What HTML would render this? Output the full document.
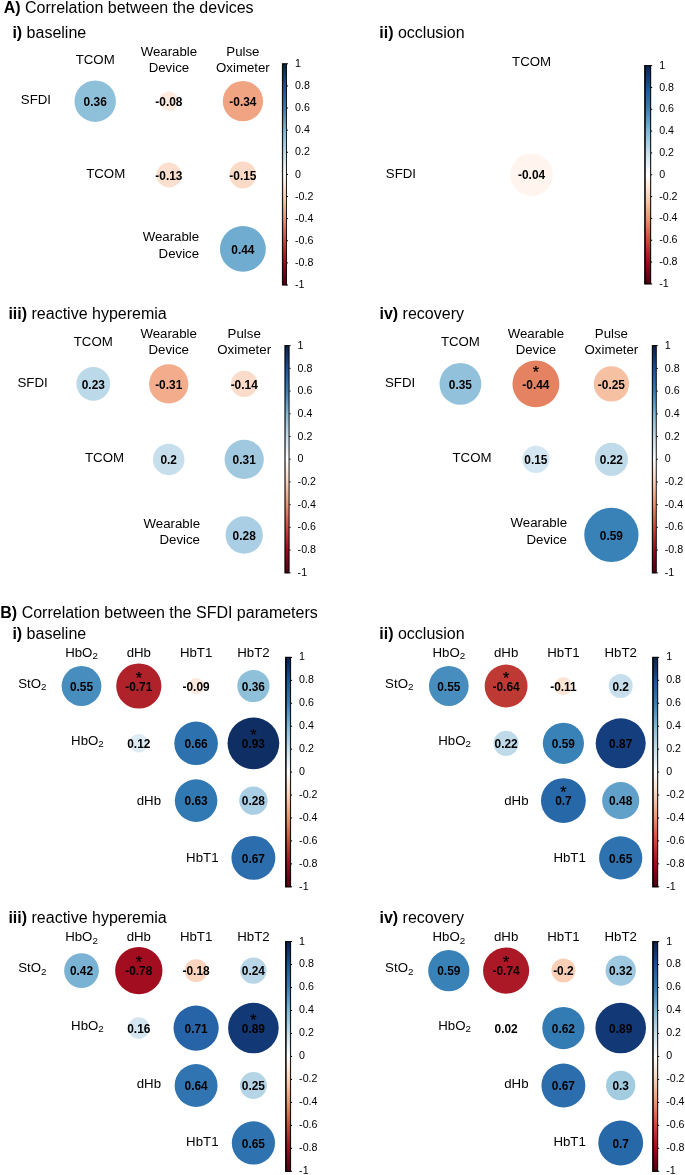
<!DOCTYPE html>
<html><head><meta charset="utf-8"><title>Correlation plots</title>
<style>
html,body{margin:0;padding:0;background:#fff;}
svg{display:block;font-family:"Liberation Sans",Arial,sans-serif;fill:#000;}
</style></head><body>
<svg width="685" height="1175" viewBox="0 0 685 1175">
<rect width="685" height="1175" fill="#fff"/>
<defs><linearGradient id="cb" x1="0" y1="0" x2="0" y2="1"><stop offset="0.000" stop-color="#0a204c"/><stop offset="0.025" stop-color="#0d2c5f"/><stop offset="0.050" stop-color="#123772"/><stop offset="0.075" stop-color="#164387"/><stop offset="0.100" stop-color="#1b519c"/><stop offset="0.125" stop-color="#225ca3"/><stop offset="0.150" stop-color="#2868aa"/><stop offset="0.175" stop-color="#2e74af"/><stop offset="0.200" stop-color="#3680b6"/><stop offset="0.225" stop-color="#488ebf"/><stop offset="0.250" stop-color="#5a9cc6"/><stop offset="0.275" stop-color="#6daace"/><stop offset="0.300" stop-color="#82b9d6"/><stop offset="0.325" stop-color="#93c2db"/><stop offset="0.350" stop-color="#a4cce1"/><stop offset="0.375" stop-color="#b5d5e7"/><stop offset="0.400" stop-color="#c7dfec"/><stop offset="0.425" stop-color="#d4e7f1"/><stop offset="0.450" stop-color="#e3eff6"/><stop offset="0.475" stop-color="#f1f6fa"/><stop offset="0.500" stop-color="#ffffff"/><stop offset="0.525" stop-color="#fef4ee"/><stop offset="0.550" stop-color="#fee9dc"/><stop offset="0.575" stop-color="#fcdecc"/><stop offset="0.600" stop-color="#fad3bb"/><stop offset="0.625" stop-color="#f7c3a7"/><stop offset="0.650" stop-color="#f3b393"/><stop offset="0.675" stop-color="#f0a381"/><stop offset="0.700" stop-color="#ed946f"/><stop offset="0.725" stop-color="#e38161"/><stop offset="0.750" stop-color="#db6d54"/><stop offset="0.775" stop-color="#d25b47"/><stop offset="0.800" stop-color="#c9493b"/><stop offset="0.825" stop-color="#be3834"/><stop offset="0.850" stop-color="#b4272c"/><stop offset="0.875" stop-color="#a91725"/><stop offset="0.900" stop-color="#9f0a1e"/><stop offset="0.925" stop-color="#89061c"/><stop offset="0.950" stop-color="#760219"/><stop offset="0.975" stop-color="#630016"/><stop offset="1.000" stop-color="#500014"/></linearGradient></defs>
<text x="3.70" y="12.60" font-size="16" text-anchor="start" font-weight="normal" ><tspan font-weight="bold">A)</tspan> Correlation between the devices</text>
<text x="12.40" y="37.80" font-size="16" text-anchor="start" font-weight="normal" ><tspan font-weight="bold">i)</tspan> baseline</text>
<text x="379.30" y="37.80" font-size="16" text-anchor="start" font-weight="normal" ><tspan font-weight="bold">ii)</tspan> occlusion</text>
<text x="8.40" y="318.70" font-size="16" text-anchor="start" font-weight="normal" ><tspan font-weight="bold">iii)</tspan> reactive hyperemia</text>
<text x="379.50" y="318.60" font-size="16" text-anchor="start" font-weight="normal" ><tspan font-weight="bold">iv)</tspan> recovery</text>
<text x="0.30" y="617.50" font-size="16" text-anchor="start" font-weight="normal" ><tspan font-weight="bold">B)</tspan> Correlation between the SFDI parameters</text>
<text x="12.40" y="638.50" font-size="16" text-anchor="start" font-weight="normal" ><tspan font-weight="bold">i)</tspan> baseline</text>
<text x="379.30" y="638.50" font-size="16" text-anchor="start" font-weight="normal" ><tspan font-weight="bold">ii)</tspan> occlusion</text>
<text x="8.40" y="922.70" font-size="16" text-anchor="start" font-weight="normal" ><tspan font-weight="bold">iii)</tspan> reactive hyperemia</text>
<text x="379.50" y="922.70" font-size="16" text-anchor="start" font-weight="normal" ><tspan font-weight="bold">iv)</tspan> recovery</text>
<text x="95.20" y="63.60" font-size="13.25" text-anchor="middle" font-weight="normal" >TCOM</text>
<text x="168.90" y="56.00" font-size="13.25" text-anchor="middle" font-weight="normal" >Wearable</text>
<text x="168.90" y="72.40" font-size="13.25" text-anchor="middle" font-weight="normal" >Device</text>
<text x="242.90" y="56.00" font-size="13.25" text-anchor="middle" font-weight="normal" >Pulse</text>
<text x="242.90" y="72.40" font-size="13.25" text-anchor="middle" font-weight="normal" >Oximeter</text>
<text x="51.00" y="104.20" font-size="13.25" text-anchor="end" font-weight="normal" >SFDI</text>
<text x="125.20" y="178.00" font-size="13.25" text-anchor="end" font-weight="normal" >TCOM</text>
<text x="199.10" y="241.40" font-size="13.25" text-anchor="end" font-weight="normal" >Wearable</text>
<text x="199.10" y="257.90" font-size="13.25" text-anchor="end" font-weight="normal" >Device</text>
<circle cx="95.20" cy="101.20" r="20.72" fill="#8fc0da"/>
<circle cx="168.90" cy="101.20" r="9.77" fill="#feeadf"/>
<circle cx="242.90" cy="101.20" r="20.14" fill="#f0a482"/>
<circle cx="168.90" cy="175.00" r="12.45" fill="#fcdfce"/>
<circle cx="242.90" cy="175.00" r="13.38" fill="#fbdbc7"/>
<circle cx="242.90" cy="248.90" r="22.91" fill="#70accf"/>
<text x="95.20" y="105.81" font-size="11.9" text-anchor="middle" font-weight="bold" >0.36</text>
<text x="168.90" y="105.81" font-size="11.9" text-anchor="middle" font-weight="bold" >-0.08</text>
<text x="242.90" y="105.81" font-size="11.9" text-anchor="middle" font-weight="bold" >-0.34</text>
<text x="168.90" y="179.61" font-size="11.9" text-anchor="middle" font-weight="bold" >-0.13</text>
<text x="242.90" y="179.61" font-size="11.9" text-anchor="middle" font-weight="bold" >-0.15</text>
<text x="242.90" y="253.51" font-size="11.9" text-anchor="middle" font-weight="bold" >0.44</text>
<rect x="282.30" y="63.50" width="4.30" height="221.80" fill="url(#cb)"/>
<path d="M281.90 63.20h1.25V285.60h-1.25zM285.95 63.20h1.05V285.60h-1.05zM281.90 63.20H287.00v1.2H281.90zM281.90 284.40H287.00v1.2H281.90z" fill="#000" fill-opacity="0.88"/>
<text x="295.00" y="66.82" font-size="10.67" text-anchor="start" font-weight="normal" >1</text>
<text x="295.00" y="88.96" font-size="10.67" text-anchor="start" font-weight="normal" >0.8</text>
<text x="295.00" y="111.10" font-size="10.67" text-anchor="start" font-weight="normal" >0.6</text>
<text x="295.00" y="133.24" font-size="10.67" text-anchor="start" font-weight="normal" >0.4</text>
<text x="295.00" y="155.38" font-size="10.67" text-anchor="start" font-weight="normal" >0.2</text>
<text x="295.00" y="177.52" font-size="10.67" text-anchor="start" font-weight="normal" >0</text>
<text x="295.00" y="199.66" font-size="10.67" text-anchor="start" font-weight="normal" >-0.2</text>
<text x="295.00" y="221.80" font-size="10.67" text-anchor="start" font-weight="normal" >-0.4</text>
<text x="295.00" y="243.94" font-size="10.67" text-anchor="start" font-weight="normal" >-0.6</text>
<text x="295.00" y="266.08" font-size="10.67" text-anchor="start" font-weight="normal" >-0.8</text>
<text x="295.00" y="288.22" font-size="10.67" text-anchor="start" font-weight="normal" >-1</text>
<path d="M286.70 63.80h1.3M286.70 85.92h1.3M286.70 108.04h1.3M286.70 130.16h1.3M286.70 152.28h1.3M286.70 174.40h1.3M286.70 196.52h1.3M286.70 218.64h1.3M286.70 240.76h1.3M286.70 262.88h1.3M286.70 285.00h1.3" stroke="#000" stroke-width="1" fill="none"/>
<text x="531.60" y="66.00" font-size="13.25" text-anchor="middle" font-weight="normal" >TCOM</text>
<text x="416.00" y="177.70" font-size="13.25" text-anchor="end" font-weight="normal" >SFDI</text>
<circle cx="531.60" cy="174.70" r="21.25" fill="#fff4ee"/>
<text x="531.60" y="179.31" font-size="11.9" text-anchor="middle" font-weight="bold" >-0.04</text>
<rect x="644.50" y="65.30" width="6.30" height="218.90" fill="url(#cb)"/>
<path d="M644.10 65.00h1.75V284.50h-1.75zM650.05 65.00h1.15V284.50h-1.15zM644.10 65.00H651.20v1.2H644.10zM644.10 283.30H651.20v1.2H644.10z" fill="#000" fill-opacity="0.88"/>
<text x="659.20" y="68.82" font-size="10.67" text-anchor="start" font-weight="normal" >1</text>
<text x="659.20" y="90.60" font-size="10.67" text-anchor="start" font-weight="normal" >0.8</text>
<text x="659.20" y="112.39" font-size="10.67" text-anchor="start" font-weight="normal" >0.6</text>
<text x="659.20" y="134.17" font-size="10.67" text-anchor="start" font-weight="normal" >0.4</text>
<text x="659.20" y="155.96" font-size="10.67" text-anchor="start" font-weight="normal" >0.2</text>
<text x="659.20" y="177.74" font-size="10.67" text-anchor="start" font-weight="normal" >0</text>
<text x="659.20" y="199.53" font-size="10.67" text-anchor="start" font-weight="normal" >-0.2</text>
<text x="659.20" y="221.31" font-size="10.67" text-anchor="start" font-weight="normal" >-0.4</text>
<text x="659.20" y="243.10" font-size="10.67" text-anchor="start" font-weight="normal" >-0.6</text>
<text x="659.20" y="264.88" font-size="10.67" text-anchor="start" font-weight="normal" >-0.8</text>
<text x="659.20" y="286.67" font-size="10.67" text-anchor="start" font-weight="normal" >-1</text>
<path d="M650.90 65.60h1.3M650.90 87.43h1.3M650.90 109.26h1.3M650.90 131.09h1.3M650.90 152.92h1.3M650.90 174.75h1.3M650.90 196.58h1.3M650.90 218.41h1.3M650.90 240.24h1.3M650.90 262.07h1.3M650.90 283.90h1.3" stroke="#000" stroke-width="1" fill="none"/>
<text x="93.30" y="345.50" font-size="13.25" text-anchor="middle" font-weight="normal" >TCOM</text>
<text x="168.70" y="337.90" font-size="13.25" text-anchor="middle" font-weight="normal" >Wearable</text>
<text x="168.70" y="354.30" font-size="13.25" text-anchor="middle" font-weight="normal" >Device</text>
<text x="244.20" y="337.90" font-size="13.25" text-anchor="middle" font-weight="normal" >Pulse</text>
<text x="244.20" y="354.30" font-size="13.25" text-anchor="middle" font-weight="normal" >Oximeter</text>
<text x="47.70" y="386.90" font-size="13.25" text-anchor="end" font-weight="normal" >SFDI</text>
<text x="124.00" y="462.40" font-size="13.25" text-anchor="end" font-weight="normal" >TCOM</text>
<text x="200.00" y="527.50" font-size="13.25" text-anchor="end" font-weight="normal" >Wearable</text>
<text x="200.00" y="544.00" font-size="13.25" text-anchor="end" font-weight="normal" >Device</text>
<circle cx="93.30" cy="383.90" r="16.90" fill="#bcd9e9"/>
<circle cx="168.70" cy="383.90" r="19.62" fill="#f3ad8c"/>
<circle cx="244.20" cy="383.90" r="13.19" fill="#fbdcca"/>
<circle cx="168.70" cy="459.40" r="15.76" fill="#c7dfec"/>
<circle cx="244.20" cy="459.40" r="19.62" fill="#a0c9e0"/>
<circle cx="244.20" cy="535.00" r="18.65" fill="#aacfe4"/>
<text x="93.30" y="388.51" font-size="11.9" text-anchor="middle" font-weight="bold" >0.23</text>
<text x="168.70" y="388.51" font-size="11.9" text-anchor="middle" font-weight="bold" >-0.31</text>
<text x="244.20" y="388.51" font-size="11.9" text-anchor="middle" font-weight="bold" >-0.14</text>
<text x="168.70" y="464.01" font-size="11.9" text-anchor="middle" font-weight="bold" >0.2</text>
<text x="244.20" y="464.01" font-size="11.9" text-anchor="middle" font-weight="bold" >0.31</text>
<text x="244.20" y="539.61" font-size="11.9" text-anchor="middle" font-weight="bold" >0.28</text>
<rect x="284.80" y="345.30" width="4.40" height="227.80" fill="url(#cb)"/>
<path d="M284.40 345.00h1.25V573.40h-1.25zM288.55 345.00h1.05V573.40h-1.05zM284.40 345.00H289.60v1.2H284.40zM284.40 572.20H289.60v1.2H284.40z" fill="#000" fill-opacity="0.88"/>
<text x="297.60" y="348.82" font-size="10.67" text-anchor="start" font-weight="normal" >1</text>
<text x="297.60" y="371.50" font-size="10.67" text-anchor="start" font-weight="normal" >0.8</text>
<text x="297.60" y="394.19" font-size="10.67" text-anchor="start" font-weight="normal" >0.6</text>
<text x="297.60" y="416.87" font-size="10.67" text-anchor="start" font-weight="normal" >0.4</text>
<text x="297.60" y="439.56" font-size="10.67" text-anchor="start" font-weight="normal" >0.2</text>
<text x="297.60" y="462.24" font-size="10.67" text-anchor="start" font-weight="normal" >0</text>
<text x="297.60" y="484.93" font-size="10.67" text-anchor="start" font-weight="normal" >-0.2</text>
<text x="297.60" y="507.61" font-size="10.67" text-anchor="start" font-weight="normal" >-0.4</text>
<text x="297.60" y="530.30" font-size="10.67" text-anchor="start" font-weight="normal" >-0.6</text>
<text x="297.60" y="552.98" font-size="10.67" text-anchor="start" font-weight="normal" >-0.8</text>
<text x="297.60" y="575.67" font-size="10.67" text-anchor="start" font-weight="normal" >-1</text>
<path d="M289.30 345.60h1.3M289.30 368.32h1.3M289.30 391.04h1.3M289.30 413.76h1.3M289.30 436.48h1.3M289.30 459.20h1.3M289.30 481.92h1.3M289.30 504.64h1.3M289.30 527.36h1.3M289.30 550.08h1.3M289.30 572.80h1.3" stroke="#000" stroke-width="1" fill="none"/>
<text x="460.40" y="345.50" font-size="13.25" text-anchor="middle" font-weight="normal" >TCOM</text>
<text x="535.90" y="337.90" font-size="13.25" text-anchor="middle" font-weight="normal" >Wearable</text>
<text x="535.90" y="354.30" font-size="13.25" text-anchor="middle" font-weight="normal" >Device</text>
<text x="611.40" y="337.90" font-size="13.25" text-anchor="middle" font-weight="normal" >Pulse</text>
<text x="611.40" y="354.30" font-size="13.25" text-anchor="middle" font-weight="normal" >Oximeter</text>
<text x="415.20" y="386.90" font-size="13.25" text-anchor="end" font-weight="normal" >SFDI</text>
<text x="491.50" y="462.40" font-size="13.25" text-anchor="end" font-weight="normal" >TCOM</text>
<text x="567.00" y="527.40" font-size="13.25" text-anchor="end" font-weight="normal" >Wearable</text>
<text x="567.00" y="543.90" font-size="13.25" text-anchor="end" font-weight="normal" >Device</text>
<circle cx="460.40" cy="383.90" r="20.90" fill="#92c2db"/>
<circle cx="535.90" cy="383.90" r="23.44" fill="#e58262"/>
<circle cx="611.40" cy="383.90" r="17.67" fill="#f6c0a3"/>
<circle cx="535.90" cy="459.40" r="13.68" fill="#d4e6f1"/>
<circle cx="611.40" cy="459.40" r="16.57" fill="#bfdbea"/>
<circle cx="611.40" cy="534.90" r="27.14" fill="#3982b8"/>
<text x="460.40" y="388.51" font-size="11.9" text-anchor="middle" font-weight="bold" >0.35</text>
<text x="535.90" y="388.51" font-size="11.9" text-anchor="middle" font-weight="bold" >-0.44</text>
<text x="535.90" y="378.15" font-size="16" text-anchor="middle" font-weight="normal" stroke="#000" stroke-width="0.25">*</text>
<text x="611.40" y="388.51" font-size="11.9" text-anchor="middle" font-weight="bold" >-0.25</text>
<text x="535.90" y="464.01" font-size="11.9" text-anchor="middle" font-weight="bold" >0.15</text>
<text x="611.40" y="464.01" font-size="11.9" text-anchor="middle" font-weight="bold" >0.22</text>
<text x="611.40" y="539.51" font-size="11.9" text-anchor="middle" font-weight="bold" >0.59</text>
<rect x="652.20" y="345.40" width="4.20" height="227.70" fill="url(#cb)"/>
<path d="M651.80 345.10h1.25V573.40h-1.25zM655.75 345.10h1.05V573.40h-1.05zM651.80 345.10H656.80v1.2H651.80zM651.80 572.20H656.80v1.2H651.80z" fill="#000" fill-opacity="0.88"/>
<text x="664.80" y="348.82" font-size="10.67" text-anchor="start" font-weight="normal" >1</text>
<text x="664.80" y="371.50" font-size="10.67" text-anchor="start" font-weight="normal" >0.8</text>
<text x="664.80" y="394.19" font-size="10.67" text-anchor="start" font-weight="normal" >0.6</text>
<text x="664.80" y="416.87" font-size="10.67" text-anchor="start" font-weight="normal" >0.4</text>
<text x="664.80" y="439.56" font-size="10.67" text-anchor="start" font-weight="normal" >0.2</text>
<text x="664.80" y="462.24" font-size="10.67" text-anchor="start" font-weight="normal" >0</text>
<text x="664.80" y="484.93" font-size="10.67" text-anchor="start" font-weight="normal" >-0.2</text>
<text x="664.80" y="507.61" font-size="10.67" text-anchor="start" font-weight="normal" >-0.4</text>
<text x="664.80" y="530.30" font-size="10.67" text-anchor="start" font-weight="normal" >-0.6</text>
<text x="664.80" y="552.98" font-size="10.67" text-anchor="start" font-weight="normal" >-0.8</text>
<text x="664.80" y="575.67" font-size="10.67" text-anchor="start" font-weight="normal" >-1</text>
<path d="M656.50 345.70h1.3M656.50 368.41h1.3M656.50 391.12h1.3M656.50 413.83h1.3M656.50 436.54h1.3M656.50 459.25h1.3M656.50 481.96h1.3M656.50 504.67h1.3M656.50 527.38h1.3M656.50 550.09h1.3M656.50 572.80h1.3" stroke="#000" stroke-width="1" fill="none"/>
<text x="81.50" y="656.50" font-size="13.25" text-anchor="middle" font-weight="normal" >HbO<tspan font-size="9.8" dy="2.6">2</tspan></text>
<text x="138.80" y="656.50" font-size="13.25" text-anchor="middle" font-weight="normal" >dHb</text>
<text x="196.10" y="656.50" font-size="13.25" text-anchor="middle" font-weight="normal" >HbT1</text>
<text x="253.40" y="656.50" font-size="13.25" text-anchor="middle" font-weight="normal" >HbT2</text>
<text x="46.50" y="687.50" font-size="13.25" text-anchor="end" font-weight="normal" >StO<tspan font-size="9.8" dy="2.6">2</tspan></text>
<text x="103.80" y="744.80" font-size="13.25" text-anchor="end" font-weight="normal" >HbO<tspan font-size="9.8" dy="2.6">2</tspan></text>
<text x="161.00" y="804.50" font-size="13.25" text-anchor="end" font-weight="normal" >dHb</text>
<text x="218.50" y="861.80" font-size="13.25" text-anchor="end" font-weight="normal" >HbT1</text>
<circle cx="81.50" cy="686.00" r="19.89" fill="#478dbd"/>
<circle cx="138.80" cy="686.00" r="22.60" fill="#b0222a"/>
<circle cx="196.10" cy="686.00" r="8.04" fill="#fee7db"/>
<circle cx="253.40" cy="686.00" r="16.09" fill="#8fc0da"/>
<circle cx="138.80" cy="743.30" r="9.29" fill="#dcebf4"/>
<circle cx="196.10" cy="743.30" r="21.79" fill="#2d71ae"/>
<circle cx="253.40" cy="743.30" r="25.86" fill="#0f2f64"/>
<circle cx="196.10" cy="800.60" r="21.28" fill="#3179b2"/>
<circle cx="253.40" cy="800.60" r="14.19" fill="#aacfe4"/>
<circle cx="253.40" cy="857.90" r="21.95" fill="#2c6ead"/>
<text x="81.50" y="690.61" font-size="11.9" text-anchor="middle" font-weight="bold" >0.55</text>
<text x="138.80" y="690.61" font-size="11.9" text-anchor="middle" font-weight="bold" >-0.71</text>
<text x="138.80" y="683.71" font-size="16" text-anchor="middle" font-weight="normal" stroke="#000" stroke-width="0.25">*</text>
<text x="196.10" y="690.61" font-size="11.9" text-anchor="middle" font-weight="bold" >-0.09</text>
<text x="253.40" y="690.61" font-size="11.9" text-anchor="middle" font-weight="bold" >0.36</text>
<text x="138.80" y="747.91" font-size="11.9" text-anchor="middle" font-weight="bold" >0.12</text>
<text x="196.10" y="747.91" font-size="11.9" text-anchor="middle" font-weight="bold" >0.66</text>
<text x="253.40" y="747.91" font-size="11.9" text-anchor="middle" font-weight="bold" >0.93</text>
<text x="253.40" y="741.01" font-size="16" text-anchor="middle" font-weight="normal" stroke="#000" stroke-width="0.25">*</text>
<text x="196.10" y="805.21" font-size="11.9" text-anchor="middle" font-weight="bold" >0.63</text>
<text x="253.40" y="805.21" font-size="11.9" text-anchor="middle" font-weight="bold" >0.28</text>
<text x="253.40" y="862.51" font-size="11.9" text-anchor="middle" font-weight="bold" >0.67</text>
<rect x="285.40" y="657.10" width="5.30" height="230.00" fill="url(#cb)"/>
<path d="M285.00 656.80h1.75V887.40h-1.75zM289.95 656.80h1.15V887.40h-1.15zM285.00 656.80H291.10v1.2H285.00zM285.00 886.20H291.10v1.2H285.00z" fill="#000" fill-opacity="0.88"/>
<text x="299.10" y="659.92" font-size="10.67" text-anchor="start" font-weight="normal" >1</text>
<text x="299.10" y="682.89" font-size="10.67" text-anchor="start" font-weight="normal" >0.8</text>
<text x="299.10" y="705.87" font-size="10.67" text-anchor="start" font-weight="normal" >0.6</text>
<text x="299.10" y="728.84" font-size="10.67" text-anchor="start" font-weight="normal" >0.4</text>
<text x="299.10" y="751.82" font-size="10.67" text-anchor="start" font-weight="normal" >0.2</text>
<text x="299.10" y="774.79" font-size="10.67" text-anchor="start" font-weight="normal" >0</text>
<text x="299.10" y="797.77" font-size="10.67" text-anchor="start" font-weight="normal" >-0.2</text>
<text x="299.10" y="820.74" font-size="10.67" text-anchor="start" font-weight="normal" >-0.4</text>
<text x="299.10" y="843.72" font-size="10.67" text-anchor="start" font-weight="normal" >-0.6</text>
<text x="299.10" y="866.69" font-size="10.67" text-anchor="start" font-weight="normal" >-0.8</text>
<text x="299.10" y="889.67" font-size="10.67" text-anchor="start" font-weight="normal" >-1</text>
<path d="M290.80 657.40h1.3M290.80 680.34h1.3M290.80 703.28h1.3M290.80 726.22h1.3M290.80 749.16h1.3M290.80 772.10h1.3M290.80 795.04h1.3M290.80 817.98h1.3M290.80 840.92h1.3M290.80 863.86h1.3M290.80 886.80h1.3" stroke="#000" stroke-width="1" fill="none"/>
<text x="448.80" y="656.50" font-size="13.25" text-anchor="middle" font-weight="normal" >HbO<tspan font-size="9.8" dy="2.6">2</tspan></text>
<text x="506.10" y="656.50" font-size="13.25" text-anchor="middle" font-weight="normal" >dHb</text>
<text x="563.40" y="656.50" font-size="13.25" text-anchor="middle" font-weight="normal" >HbT1</text>
<text x="620.70" y="656.50" font-size="13.25" text-anchor="middle" font-weight="normal" >HbT2</text>
<text x="413.40" y="687.50" font-size="13.25" text-anchor="end" font-weight="normal" >StO<tspan font-size="9.8" dy="2.6">2</tspan></text>
<text x="471.00" y="744.80" font-size="13.25" text-anchor="end" font-weight="normal" >HbO<tspan font-size="9.8" dy="2.6">2</tspan></text>
<text x="528.50" y="804.50" font-size="13.25" text-anchor="end" font-weight="normal" >dHb</text>
<text x="585.80" y="861.80" font-size="13.25" text-anchor="end" font-weight="normal" >HbT1</text>
<circle cx="448.80" cy="686.00" r="19.89" fill="#478dbd"/>
<circle cx="506.10" cy="686.00" r="21.45" fill="#bf3934"/>
<circle cx="563.40" cy="686.00" r="8.89" fill="#fce4d4"/>
<circle cx="620.70" cy="686.00" r="11.99" fill="#c7dfec"/>
<circle cx="506.10" cy="743.30" r="12.58" fill="#bfdbea"/>
<circle cx="563.40" cy="743.30" r="20.60" fill="#3982b8"/>
<circle cx="620.70" cy="743.30" r="25.01" fill="#143e7d"/>
<circle cx="563.40" cy="800.60" r="22.44" fill="#2768a8"/>
<circle cx="620.70" cy="800.60" r="18.58" fill="#61a0c9"/>
<circle cx="620.70" cy="857.90" r="21.62" fill="#2e73af"/>
<text x="448.80" y="690.61" font-size="11.9" text-anchor="middle" font-weight="bold" >0.55</text>
<text x="506.10" y="690.61" font-size="11.9" text-anchor="middle" font-weight="bold" >-0.64</text>
<text x="506.10" y="683.71" font-size="16" text-anchor="middle" font-weight="normal" stroke="#000" stroke-width="0.25">*</text>
<text x="563.40" y="690.61" font-size="11.9" text-anchor="middle" font-weight="bold" >-0.11</text>
<text x="620.70" y="690.61" font-size="11.9" text-anchor="middle" font-weight="bold" >0.2</text>
<text x="506.10" y="747.91" font-size="11.9" text-anchor="middle" font-weight="bold" >0.22</text>
<text x="563.40" y="747.91" font-size="11.9" text-anchor="middle" font-weight="bold" >0.59</text>
<text x="620.70" y="747.91" font-size="11.9" text-anchor="middle" font-weight="bold" >0.87</text>
<text x="563.40" y="805.21" font-size="11.9" text-anchor="middle" font-weight="bold" >0.7</text>
<text x="563.40" y="798.31" font-size="16" text-anchor="middle" font-weight="normal" stroke="#000" stroke-width="0.25">*</text>
<text x="620.70" y="805.21" font-size="11.9" text-anchor="middle" font-weight="bold" >0.48</text>
<text x="620.70" y="862.51" font-size="11.9" text-anchor="middle" font-weight="bold" >0.65</text>
<rect x="652.50" y="657.10" width="5.30" height="230.00" fill="url(#cb)"/>
<path d="M652.10 656.80h1.75V887.40h-1.75zM657.05 656.80h1.15V887.40h-1.15zM652.10 656.80H658.20v1.2H652.10zM652.10 886.20H658.20v1.2H652.10z" fill="#000" fill-opacity="0.88"/>
<text x="666.20" y="659.92" font-size="10.67" text-anchor="start" font-weight="normal" >1</text>
<text x="666.20" y="682.89" font-size="10.67" text-anchor="start" font-weight="normal" >0.8</text>
<text x="666.20" y="705.87" font-size="10.67" text-anchor="start" font-weight="normal" >0.6</text>
<text x="666.20" y="728.84" font-size="10.67" text-anchor="start" font-weight="normal" >0.4</text>
<text x="666.20" y="751.82" font-size="10.67" text-anchor="start" font-weight="normal" >0.2</text>
<text x="666.20" y="774.79" font-size="10.67" text-anchor="start" font-weight="normal" >0</text>
<text x="666.20" y="797.77" font-size="10.67" text-anchor="start" font-weight="normal" >-0.2</text>
<text x="666.20" y="820.74" font-size="10.67" text-anchor="start" font-weight="normal" >-0.4</text>
<text x="666.20" y="843.72" font-size="10.67" text-anchor="start" font-weight="normal" >-0.6</text>
<text x="666.20" y="866.69" font-size="10.67" text-anchor="start" font-weight="normal" >-0.8</text>
<text x="666.20" y="889.67" font-size="10.67" text-anchor="start" font-weight="normal" >-1</text>
<path d="M657.90 657.40h1.3M657.90 680.34h1.3M657.90 703.28h1.3M657.90 726.22h1.3M657.90 749.16h1.3M657.90 772.10h1.3M657.90 795.04h1.3M657.90 817.98h1.3M657.90 840.92h1.3M657.90 863.86h1.3M657.90 886.80h1.3" stroke="#000" stroke-width="1" fill="none"/>
<text x="81.50" y="941.00" font-size="13.25" text-anchor="middle" font-weight="normal" >HbO<tspan font-size="9.8" dy="2.6">2</tspan></text>
<text x="138.80" y="941.00" font-size="13.25" text-anchor="middle" font-weight="normal" >dHb</text>
<text x="196.10" y="941.00" font-size="13.25" text-anchor="middle" font-weight="normal" >HbT1</text>
<text x="253.40" y="941.00" font-size="13.25" text-anchor="middle" font-weight="normal" >HbT2</text>
<text x="46.50" y="972.10" font-size="13.25" text-anchor="end" font-weight="normal" >StO<tspan font-size="9.8" dy="2.6">2</tspan></text>
<text x="103.80" y="1029.55" font-size="13.25" text-anchor="end" font-weight="normal" >HbO<tspan font-size="9.8" dy="2.6">2</tspan></text>
<text x="161.00" y="1088.40" font-size="13.25" text-anchor="end" font-weight="normal" >dHb</text>
<text x="218.50" y="1145.85" font-size="13.25" text-anchor="end" font-weight="normal" >HbT1</text>
<circle cx="81.50" cy="970.60" r="17.38" fill="#79b2d3"/>
<circle cx="138.80" cy="970.60" r="23.68" fill="#a20e20"/>
<circle cx="196.10" cy="970.60" r="11.38" fill="#fad4bd"/>
<circle cx="253.40" cy="970.60" r="13.14" fill="#b8d6e7"/>
<circle cx="138.80" cy="1028.05" r="10.73" fill="#d2e5f0"/>
<circle cx="196.10" cy="1028.05" r="22.60" fill="#2664a7"/>
<circle cx="253.40" cy="1028.05" r="25.30" fill="#123875"/>
<circle cx="196.10" cy="1085.50" r="21.45" fill="#3075b1"/>
<circle cx="253.40" cy="1085.50" r="13.41" fill="#b5d5e6"/>
<circle cx="253.40" cy="1142.95" r="21.62" fill="#2e73af"/>
<text x="81.50" y="975.21" font-size="11.9" text-anchor="middle" font-weight="bold" >0.42</text>
<text x="138.80" y="975.21" font-size="11.9" text-anchor="middle" font-weight="bold" >-0.78</text>
<text x="138.80" y="968.31" font-size="16" text-anchor="middle" font-weight="normal" stroke="#000" stroke-width="0.25">*</text>
<text x="196.10" y="975.21" font-size="11.9" text-anchor="middle" font-weight="bold" >-0.18</text>
<text x="253.40" y="975.21" font-size="11.9" text-anchor="middle" font-weight="bold" >0.24</text>
<text x="138.80" y="1032.66" font-size="11.9" text-anchor="middle" font-weight="bold" >0.16</text>
<text x="196.10" y="1032.66" font-size="11.9" text-anchor="middle" font-weight="bold" >0.71</text>
<text x="253.40" y="1032.66" font-size="11.9" text-anchor="middle" font-weight="bold" >0.89</text>
<text x="253.40" y="1025.76" font-size="16" text-anchor="middle" font-weight="normal" stroke="#000" stroke-width="0.25">*</text>
<text x="196.10" y="1090.11" font-size="11.9" text-anchor="middle" font-weight="bold" >0.64</text>
<text x="253.40" y="1090.11" font-size="11.9" text-anchor="middle" font-weight="bold" >0.25</text>
<text x="253.40" y="1147.56" font-size="11.9" text-anchor="middle" font-weight="bold" >0.65</text>
<rect x="285.40" y="941.30" width="5.30" height="230.30" fill="url(#cb)"/>
<path d="M285.00 941.00h1.75V1171.90h-1.75zM289.95 941.00h1.15V1171.90h-1.15zM285.00 941.00H291.10v1.2H285.00zM285.00 1170.70H291.10v1.2H285.00z" fill="#000" fill-opacity="0.88"/>
<text x="299.10" y="944.52" font-size="10.67" text-anchor="start" font-weight="normal" >1</text>
<text x="299.10" y="967.45" font-size="10.67" text-anchor="start" font-weight="normal" >0.8</text>
<text x="299.10" y="990.38" font-size="10.67" text-anchor="start" font-weight="normal" >0.6</text>
<text x="299.10" y="1013.31" font-size="10.67" text-anchor="start" font-weight="normal" >0.4</text>
<text x="299.10" y="1036.24" font-size="10.67" text-anchor="start" font-weight="normal" >0.2</text>
<text x="299.10" y="1059.17" font-size="10.67" text-anchor="start" font-weight="normal" >0</text>
<text x="299.10" y="1082.10" font-size="10.67" text-anchor="start" font-weight="normal" >-0.2</text>
<text x="299.10" y="1105.03" font-size="10.67" text-anchor="start" font-weight="normal" >-0.4</text>
<text x="299.10" y="1127.96" font-size="10.67" text-anchor="start" font-weight="normal" >-0.6</text>
<text x="299.10" y="1150.89" font-size="10.67" text-anchor="start" font-weight="normal" >-0.8</text>
<text x="299.10" y="1173.82" font-size="10.67" text-anchor="start" font-weight="normal" >-1</text>
<path d="M290.80 941.60h1.3M290.80 964.57h1.3M290.80 987.54h1.3M290.80 1010.51h1.3M290.80 1033.48h1.3M290.80 1056.45h1.3M290.80 1079.42h1.3M290.80 1102.39h1.3M290.80 1125.36h1.3M290.80 1148.33h1.3M290.80 1171.30h1.3" stroke="#000" stroke-width="1" fill="none"/>
<text x="448.80" y="941.00" font-size="13.25" text-anchor="middle" font-weight="normal" >HbO<tspan font-size="9.8" dy="2.6">2</tspan></text>
<text x="506.10" y="941.00" font-size="13.25" text-anchor="middle" font-weight="normal" >dHb</text>
<text x="563.40" y="941.00" font-size="13.25" text-anchor="middle" font-weight="normal" >HbT1</text>
<text x="620.70" y="941.00" font-size="13.25" text-anchor="middle" font-weight="normal" >HbT2</text>
<text x="413.40" y="972.10" font-size="13.25" text-anchor="end" font-weight="normal" >StO<tspan font-size="9.8" dy="2.6">2</tspan></text>
<text x="471.00" y="1029.55" font-size="13.25" text-anchor="end" font-weight="normal" >HbO<tspan font-size="9.8" dy="2.6">2</tspan></text>
<text x="528.50" y="1088.40" font-size="13.25" text-anchor="end" font-weight="normal" >dHb</text>
<text x="585.80" y="1145.85" font-size="13.25" text-anchor="end" font-weight="normal" >HbT1</text>
<circle cx="448.80" cy="970.60" r="20.60" fill="#3982b8"/>
<circle cx="506.10" cy="970.60" r="23.07" fill="#aa1925"/>
<circle cx="563.40" cy="970.60" r="11.99" fill="#f9cfb6"/>
<circle cx="620.70" cy="970.60" r="15.17" fill="#9dc8df"/>
<circle cx="506.10" cy="1028.05" r="3.79" fill="#f9fbfd"/>
<circle cx="563.40" cy="1028.05" r="21.12" fill="#337bb3"/>
<circle cx="620.70" cy="1028.05" r="25.30" fill="#123875"/>
<circle cx="563.40" cy="1085.50" r="21.95" fill="#2c6ead"/>
<circle cx="620.70" cy="1085.50" r="14.69" fill="#a3cce1"/>
<circle cx="620.70" cy="1142.95" r="22.44" fill="#2768a8"/>
<text x="448.80" y="975.21" font-size="11.9" text-anchor="middle" font-weight="bold" >0.59</text>
<text x="506.10" y="975.21" font-size="11.9" text-anchor="middle" font-weight="bold" >-0.74</text>
<text x="506.10" y="968.31" font-size="16" text-anchor="middle" font-weight="normal" stroke="#000" stroke-width="0.25">*</text>
<text x="563.40" y="975.21" font-size="11.9" text-anchor="middle" font-weight="bold" >-0.2</text>
<text x="620.70" y="975.21" font-size="11.9" text-anchor="middle" font-weight="bold" >0.32</text>
<text x="506.10" y="1032.66" font-size="11.9" text-anchor="middle" font-weight="bold" >0.02</text>
<text x="563.40" y="1032.66" font-size="11.9" text-anchor="middle" font-weight="bold" >0.62</text>
<text x="620.70" y="1032.66" font-size="11.9" text-anchor="middle" font-weight="bold" >0.89</text>
<text x="563.40" y="1090.11" font-size="11.9" text-anchor="middle" font-weight="bold" >0.67</text>
<text x="620.70" y="1090.11" font-size="11.9" text-anchor="middle" font-weight="bold" >0.3</text>
<text x="620.70" y="1147.56" font-size="11.9" text-anchor="middle" font-weight="bold" >0.7</text>
<rect x="652.50" y="941.30" width="5.30" height="230.30" fill="url(#cb)"/>
<path d="M652.10 941.00h1.75V1171.90h-1.75zM657.05 941.00h1.15V1171.90h-1.15zM652.10 941.00H658.20v1.2H652.10zM652.10 1170.70H658.20v1.2H652.10z" fill="#000" fill-opacity="0.88"/>
<text x="666.20" y="944.52" font-size="10.67" text-anchor="start" font-weight="normal" >1</text>
<text x="666.20" y="967.45" font-size="10.67" text-anchor="start" font-weight="normal" >0.8</text>
<text x="666.20" y="990.38" font-size="10.67" text-anchor="start" font-weight="normal" >0.6</text>
<text x="666.20" y="1013.31" font-size="10.67" text-anchor="start" font-weight="normal" >0.4</text>
<text x="666.20" y="1036.24" font-size="10.67" text-anchor="start" font-weight="normal" >0.2</text>
<text x="666.20" y="1059.17" font-size="10.67" text-anchor="start" font-weight="normal" >0</text>
<text x="666.20" y="1082.10" font-size="10.67" text-anchor="start" font-weight="normal" >-0.2</text>
<text x="666.20" y="1105.03" font-size="10.67" text-anchor="start" font-weight="normal" >-0.4</text>
<text x="666.20" y="1127.96" font-size="10.67" text-anchor="start" font-weight="normal" >-0.6</text>
<text x="666.20" y="1150.89" font-size="10.67" text-anchor="start" font-weight="normal" >-0.8</text>
<text x="666.20" y="1173.82" font-size="10.67" text-anchor="start" font-weight="normal" >-1</text>
<path d="M657.90 941.60h1.3M657.90 964.57h1.3M657.90 987.54h1.3M657.90 1010.51h1.3M657.90 1033.48h1.3M657.90 1056.45h1.3M657.90 1079.42h1.3M657.90 1102.39h1.3M657.90 1125.36h1.3M657.90 1148.33h1.3M657.90 1171.30h1.3" stroke="#000" stroke-width="1" fill="none"/>
</svg>
</body></html>
